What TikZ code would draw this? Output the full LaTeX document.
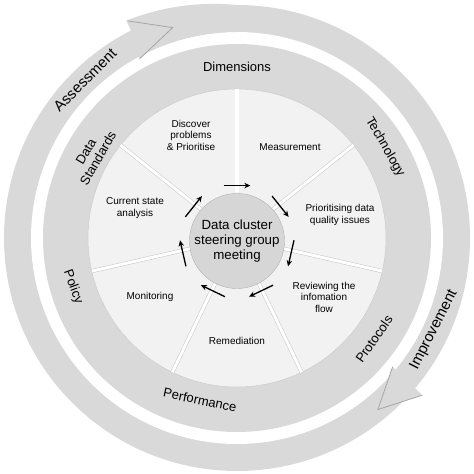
\documentclass[tikz,border=0pt]{standalone}
\usepackage{fontspec}
\setmainfont{Liberation Sans}
\usepackage{xcolor}
\usetikzlibrary{arrows.meta}
\definecolor{ringgray}{HTML}{D9D9D9}
\definecolor{segfill}{HTML}{F2F2F2}
\definecolor{hubgray}{HTML}{D6D6D6}
\tikzstyle{hub} = [circle, minimum size=92pt, inner sep=0pt, fill=hubgray, draw=gray!60, line width=0.4pt, align=center, font=\fontsize{13.3}{15}\selectfont]
\tikzstyle{seglabel} = [align=center, inner sep=0pt, font=\fontsize{10}{11.5}\selectfont]
\tikzstyle{ringlabel} = [align=center, inner sep=0pt, font=\fontsize{13}{14}\selectfont]
\tikzstyle{outerlabel} = [inner sep=0pt, font=\fontsize{15}{16}\selectfont]
\tikzstyle{divider} = [draw=gray!45, line width=0.5pt, double=white, double distance=3pt]
\tikzstyle{cyclearrow} = [line width=1.3pt, -{Stealth[length=6pt,width=5.5pt]}]
\tikzstyle{headedge} = [draw=gray!70, line width=0.8pt]

\begin{document}
\begin{tikzpicture}[x=1pt, y=1pt]
\useasboundingbox (-237,-236) rectangle (237,238);

% Outer arrow ring
\fill[ringgray] (0,0) circle (233);
\fill[white] (0,0) circle (206);
\fill[ringgray] plot[domain=90:117, samples=20] (\x:{233+11*(\x-90)/27}) -- (117:206) arc[start angle=117, end angle=90, radius=206] -- cycle;

% Arrow heads
\fill[ringgray] (116.7:243) -- (107:220) -- (118.5:204) -- cycle;
\draw[headedge] (116.7:243) -- (107:220) -- (118.5:204);
\fill[ringgray] (-40.3:243) -- (-50.6:222) -- (-39.6:202) -- cycle;
\draw[headedge] (-39.6:202) -- (-50.6:222) -- (-40.3:243);

% Inner rings
\fill[ringgray] (0,0) circle (194);
\filldraw[fill=segfill, draw=gray!40, line width=0.5pt] (0,0) circle (149);

% Dividers
\foreach \a in {0,...,6}
  \draw[divider] ({90-\a*360/7}:46) -- ({90-\a*360/7}:149);

% Centre
\node (hub) [hub] at (0,-3) {Data cluster\\steering group\\meeting};

% Arrows round the centre
\begin{scope}[shift={(hub.center)}]
\foreach \a in {0,...,6}
  \draw[cyclearrow] ({90-\a*360/7+13.5}:57) -- ({90-\a*360/7-13.5}:57);
\end{scope}

% Steps
\node (discover) [seglabel] at (-46,103) {Discover\\problems\\\& Prioritise};
\node (measurement) [seglabel] at (53,91) {Measurement};
\node (prioritising) [seglabel] at (103,23) {Prioritising data\\quality issues};
\node (reviewing) [seglabel] at (87,-59) {Reviewing the\\infomation\\flow};
\node (remediation) [seglabel] at (0,-103) {Remediation};
\node (monitoring) [seglabel] at (-87,-59) {Monitoring};
\node (current) [seglabel] at (-102,30) {Current state\\analysis};

% Middle ring
\node (dimensions) [ringlabel] at (0,171) {Dimensions};
\node (technology) [ringlabel, rotate=-60] at (148,91) {Technology};
\node (protocols) [ringlabel, rotate=55] at (137,-101) {Protocols};
\node (performance) [ringlabel, rotate=-12] at (-37,-162) {Performance};
\node (policy) [ringlabel, rotate=-70] at (-164,-49) {Policy};
\node (standards) [ringlabel, rotate=60] at (-145,83) {Data\\Standards};

% Outer ring
\node (assessment) [outerlabel, rotate=45] at (-152,158) {Assessment};
\node (improvement) [outerlabel, rotate=63] at (197,-92) {Improvement};

\end{tikzpicture}
\end{document}
